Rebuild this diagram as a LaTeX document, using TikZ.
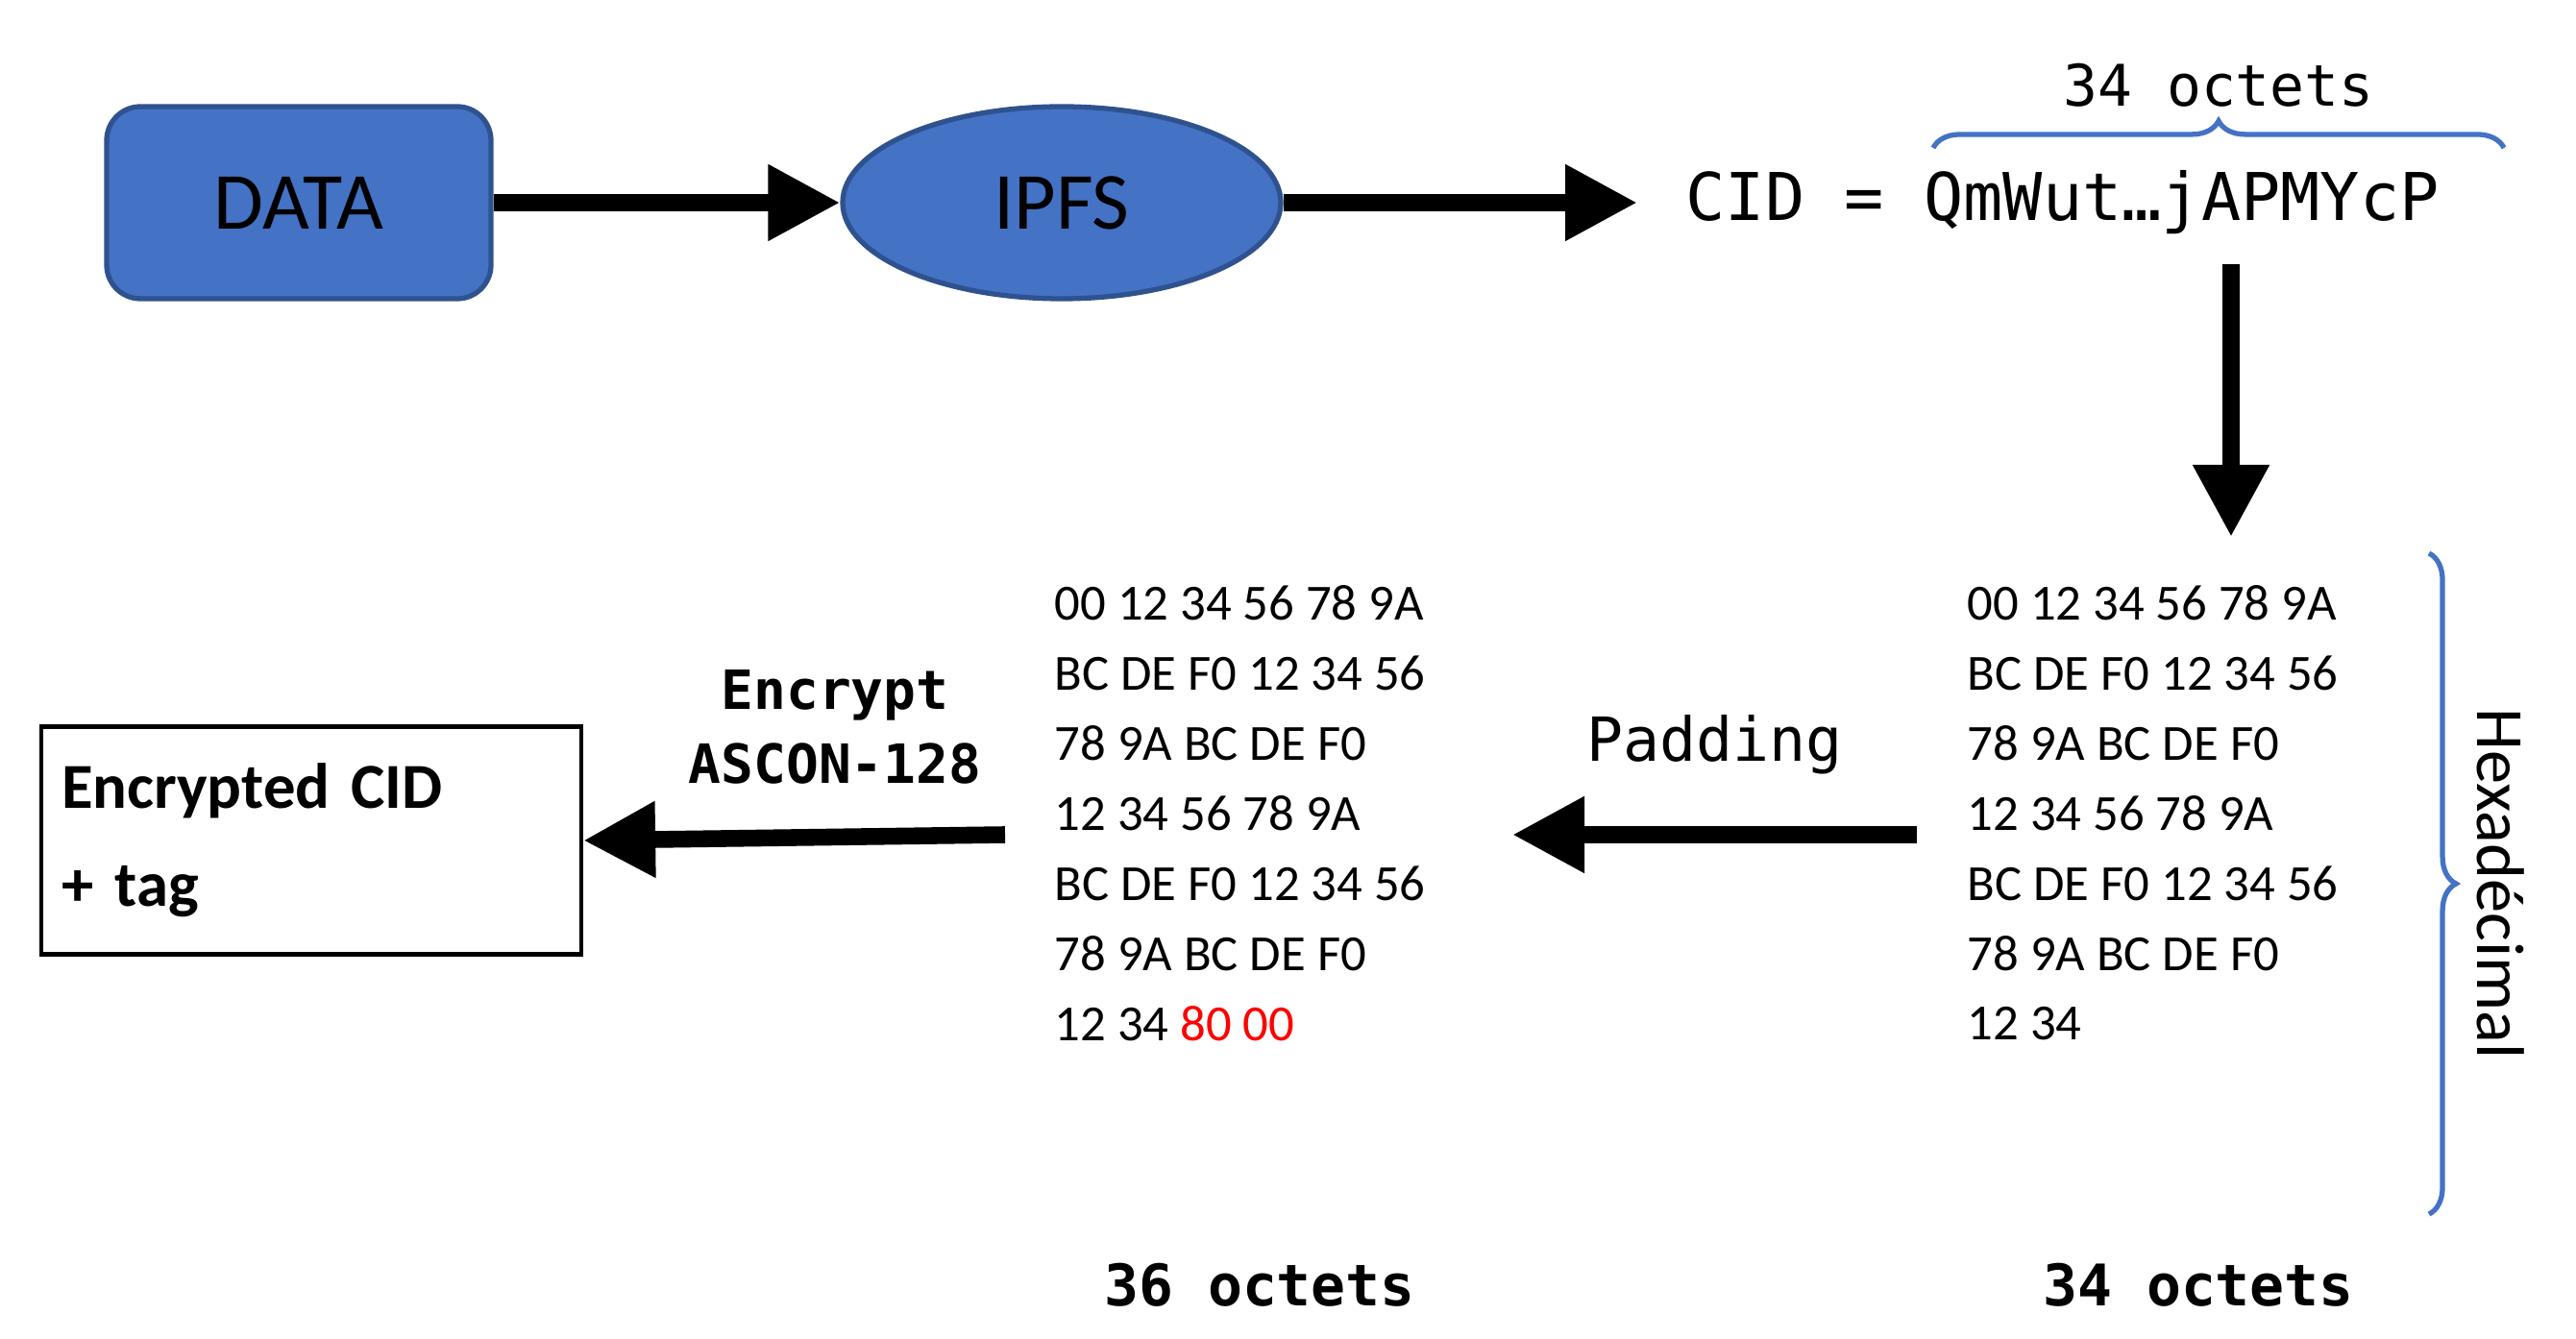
\documentclass[tikz,border=0pt]{standalone}
\usepackage{fontspec}
\setmainfont{Carlito}
\newfontfamily\monofont{DejaVu Sans Mono}
\usetikzlibrary{shapes.geometric,arrows.meta,decorations.pathreplacing}
\definecolor{boxblue}{RGB}{68,114,196}
\definecolor{boxline}{RGB}{47,82,143}
\tikzset{
  bigarrow/.style={line width=5pt, -{Triangle[length=0.75cm,width=0.75cm]}},
  hexline/.style={anchor=west, font=\fontsize{15}{18}\selectfont, inner sep=0pt},
  bluebrace/.style={draw=boxblue, line width=1.5pt, decorate, decoration={brace, amplitude=8pt}},
  octets/.style={font=\monofont\bfseries\fontsize{17}{20}\selectfont}
}
\begin{document}
\begin{tikzpicture}
\useasboundingbox (0,0) rectangle (26.81,13.94);
\node[draw=boxline, line width=1.5pt, fill=boxblue, rounded corners=10pt, minimum width=4cm, minimum height=2cm, font=\fontsize{24}{28}\selectfont] (data) at (3.11,11.83) {DATA};
\node[ellipse, draw=boxline, line width=1.5pt, fill=boxblue, minimum width=4.56cm, minimum height=2cm, font=\fontsize{24}{28}\selectfont] (ipfs) at (11.05,11.83) {IPFS};
\node[anchor=west, inner sep=0pt, font=\monofont\fontsize{19.5}{24}\selectfont] (cid) at (17.54,11.83) {CID = QmWut…jAPMYcP};
\draw[bigarrow] (data) -- (ipfs);
\draw[bigarrow, shorten >=0.5cm] (ipfs) -- (cid.west);
\draw[bluebrace] (20.12,12.4) -- (26.06,12.4) node[midway, above=8pt, font=\monofont\fontsize{17}{20}\selectfont] (oct) {34 octets};
% hex blocks
\foreach \t [count=\i] in {00 12 34 56 78 9A, BC DE F0 12 34 56, 78 9A BC DE F0, 12 34 56 78 9A, BC DE F0 12 34 56, 78 9A BC DE F0, 12 34}
  \node[hexline] (r\i) at (20.47,{13.94-6.28-(\i-1)*0.73}) {\t};
\foreach \t [count=\i] in {00 12 34 56 78 9A, BC DE F0 12 34 56, 78 9A BC DE F0, 12 34 56 78 9A, BC DE F0 12 34 56, 78 9A BC DE F0}
  \node[hexline] (l\i) at (10.97,{13.94-6.28-(\i-1)*0.73}) {\t};
\node[hexline] (l7) at (10.97,{13.94-6.28-6*0.73}) {12 34 \textcolor{red}{80 00}};
\coordinate (dtop) at (23.22,11.19);
\coordinate (dbot) at (23.22,8.35);
\draw[bigarrow] (dtop) -- (dbot);
\draw[bluebrace] (25.28,8.18) -- (25.28,1.30) node[midway, right=10pt, rotate=-90, anchor=south, font=\fontsize{20}{24}\selectfont] (hexa) {Hexadécimal};
% arrows
\coordinate (pa) at (19.95,5.25);
\coordinate (pb) at (15.74,5.25);
\draw[bigarrow] (pa) -- (pb) node[midway, above=12pt, font=\monofont\fontsize{18}{22}\selectfont] (pad) {Padding};
\node[draw, line width=1.2pt, minimum width=5.62cm, minimum height=2.37cm, align=left, text width=5.2cm, font=\bfseries\fontsize{19}{29}\selectfont] (enc) at (3.24,5.19) {Encrypted CID\\+ tag};
\coordinate (ea) at (10.46,5.25);
\draw[bigarrow] (ea) -- (enc.east);
\node[align=center, font=\monofont\bfseries\fontsize{16}{22}\selectfont] (ascon) at (8.69,6.37) {Encrypt\\ASCON-128};
\node[octets] (o36) at (13.11,0.56) {36 octets};
\node[octets] (o34) at (22.88,0.56) {34 octets};
\end{tikzpicture}
\end{document}
